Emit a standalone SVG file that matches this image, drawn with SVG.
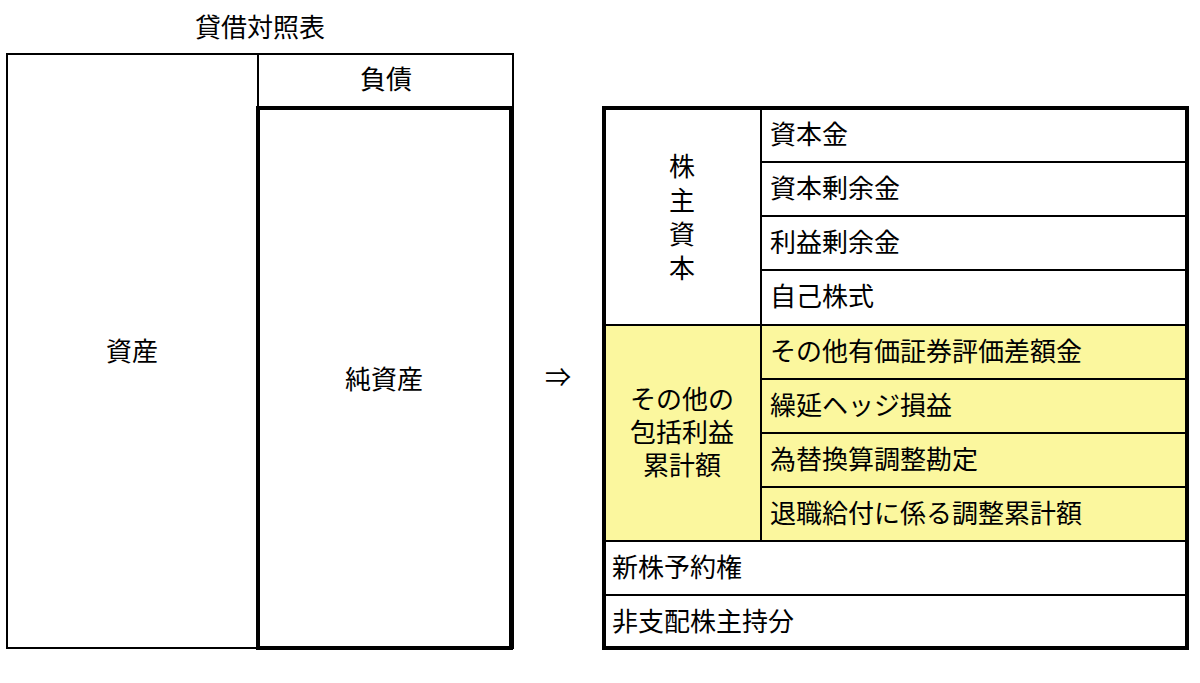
<svg xmlns="http://www.w3.org/2000/svg" width="1200" height="683" viewBox="0 0 1200 683">
<style>
text{font-family:"Noto Sans CJK JP","Noto Sans CJK SC",sans-serif;font-size:26px;fill:#000}
.c{text-anchor:middle}
.thin{fill:none;stroke:#000;stroke-width:2}
.thick{fill:none;stroke:#000;stroke-width:4}
</style>
<rect width="1200" height="683" fill="#fff"/>
<text id="title" class="c" x="260" y="37">貸借対照表</text>
<g id="bs">
<rect class="thin" x="7" y="54" width="506" height="594"/>
<line class="thin" x1="258" y1="54" x2="258" y2="648"/>
<text class="c" x="132" y="361">資産</text>
<text class="c" x="386" y="89">負債</text>
<rect class="thick" x="258" y="108" width="253" height="540"/>
<text class="c" x="384" y="389">純資産</text>
</g>
<text id="arrow" class="c" x="558" y="387">⇒</text>
<g id="table">
<rect x="603" y="325" width="585" height="216" fill="#fbf79e"/>
<g class="thin">
<line x1="761" y1="108" x2="761" y2="541"/>
<line x1="761" y1="162" x2="1188" y2="162"/>
<line x1="761" y1="216" x2="1188" y2="216"/>
<line x1="761" y1="270" x2="1188" y2="270"/>
<line x1="603" y1="325" x2="1188" y2="325"/>
<line x1="761" y1="379" x2="1188" y2="379"/>
<line x1="761" y1="433" x2="1188" y2="433"/>
<line x1="761" y1="487" x2="1188" y2="487"/>
<line x1="603" y1="541" x2="1188" y2="541"/>
<line x1="603" y1="595" x2="1188" y2="595"/>
</g>
<rect class="thick" x="604" y="108" width="583" height="540"/>
<text class="c" x="682" y="176">株</text>
<text class="c" x="682" y="210">主</text>
<text class="c" x="682" y="244">資</text>
<text class="c" x="682" y="278">本</text>
<text class="c" x="682" y="409">その他の</text>
<text class="c" x="682" y="442">包括利益</text>
<text class="c" x="682" y="475">累計額</text>
<text x="770" y="144">資本金</text>
<text x="770" y="198">資本剰余金</text>
<text x="770" y="252">利益剰余金</text>
<text x="770" y="306">自己株式</text>
<text x="770" y="361">その他有価証券評価差額金</text>
<text x="770" y="415">繰延ヘッジ損益</text>
<text x="770" y="469">為替換算調整勘定</text>
<text x="770" y="523">退職給付に係る調整累計額</text>
<text x="612" y="577">新株予約権</text>
<text x="612" y="631">非支配株主持分</text>
</g>
</svg>
